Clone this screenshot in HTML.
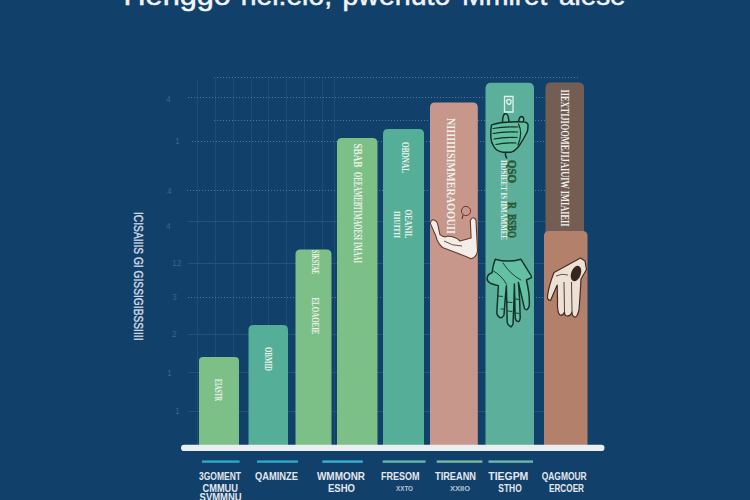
<!DOCTYPE html>
<html><head><meta charset="utf-8">
<style>
html,body{margin:0;padding:0;width:750px;height:500px;overflow:hidden;background:#11406a;}
svg{display:block;position:absolute;left:0;top:0;}
svg{font-family:"Liberation Sans",sans-serif;}
</style></head>
<body>
<svg width="750" height="500" viewBox="0 0 750 500">
  <rect width="750" height="500" fill="#11406a"/>
  <!-- title -->
  <g font-size="27" fill="#f2f4f6" stroke="#f2f4f6" stroke-width="0.5">
    <text x="123.5" y="5.2" textLength="107.3" lengthAdjust="spacingAndGlyphs">Henggo</text>
    <text x="240.8" y="5.2" textLength="91.2" lengthAdjust="spacingAndGlyphs">hel.elo,</text>
    <text x="342.4" y="5.2" textLength="108" lengthAdjust="spacingAndGlyphs">pwenuto</text>
    <text x="462" y="5.2" textLength="85.2" lengthAdjust="spacingAndGlyphs">Mmlret</text>
    <text x="559" y="5.2" textLength="66.6" lengthAdjust="spacingAndGlyphs">alese</text>
  </g>

  <!-- vertical grid lines -->
  <g stroke="#1f4d77" stroke-width="1">
    <line x1="197.5" y1="79" x2="197.5" y2="445"/>
    <line x1="215.5" y1="79" x2="215.5" y2="445"/>
    <line x1="233.5" y1="79" x2="233.5" y2="445"/>
    <line x1="251.5" y1="79" x2="251.5" y2="445"/>
    <line x1="268.5" y1="79" x2="268.5" y2="445"/>
    <line x1="286.5" y1="79" x2="286.5" y2="445"/>
    <line x1="304.5" y1="79" x2="304.5" y2="445"/>
    <line x1="322.5" y1="79" x2="322.5" y2="445"/>
    <line x1="334.5" y1="79" x2="334.5" y2="445"/>
  </g>
  <!-- horizontal dotted grid lines -->
  <g stroke="#4f769e" stroke-width="1" stroke-dasharray="1 2">
    <line x1="214" y1="77.5" x2="579" y2="77.5"/>
    <line x1="188" y1="97.5" x2="580" y2="97.5"/>
    <line x1="214" y1="120.5" x2="580" y2="120.5"/>
    <line x1="192" y1="141.5" x2="580" y2="141.5"/>
    <line x1="187" y1="190.5" x2="580" y2="190.5"/>
    <line x1="188" y1="297.5" x2="580" y2="297.5"/>
  </g>
  <g stroke="#255279" stroke-width="1">
    <line x1="188" y1="221.5" x2="580" y2="221.5"/>
    <line x1="188" y1="263.5" x2="580" y2="263.5"/>
    <line x1="188" y1="334.5" x2="580" y2="334.5"/>
    <line x1="188" y1="372.5" x2="580" y2="372.5"/>
    <line x1="188" y1="411.5" x2="580" y2="411.5"/>
  </g>
  <!-- y tick labels -->
  <g fill="#3f6388" font-size="8.5">
    <text x="166" y="102">4</text>
    <text x="175" y="144">1</text>
    <text x="167" y="194">4</text>
    <text x="166" y="229">4</text>
    <text x="172" y="266">12</text>
    <text x="172" y="300">3</text>
    <text x="172" y="337">2</text>
    <text x="167" y="376">1</text>
    <text x="175" y="414">1</text>
  </g>
  <!-- y axis label rotated -->
  <text transform="translate(133.5,212) rotate(90)" font-size="13" fill="#d2d9e2" stroke="#d2d9e2" stroke-width="0.4" textLength="128.5" lengthAdjust="spacingAndGlyphs">ICISAIIIS GI GISSIGIBSSIIII</text>

  <!-- bars -->
  <path d="M199 445 V361 Q199 357 203 357 H235 Q239 357 239 361 V445 Z" fill="#7dc087"/>
  <path d="M248.5 445 V330 Q248.5 325 253.5 325 H283 Q288 325 288 330 V445 Z" fill="#55ae98"/>
  <path d="M295.5 445 V254.5 Q295.5 249.5 300.5 249.5 H326.5 Q331.5 249.5 331.5 254.5 V445 Z" fill="#7dc087"/>
  <path d="M337 445 V143 Q337 138 342 138 H372.5 Q377.5 138 377.5 143 V445 Z" fill="#7dc087"/>
  <path d="M383 445 V134 Q383 129 388 129 H419 Q424 129 424 134 V445 Z" fill="#55ae98"/>
  <path d="M430 445 V107.5 Q430 102.5 435 102.5 H472.8 Q477.8 102.5 477.8 107.5 V445 Z" fill="#c6978a"/>
  <path d="M485.5 445 V88.5 Q485.5 82.8 491 82.8 H528.5 Q534 82.8 534 88.5 V445 Z" fill="#5caf9a"/>
  <path d="M545.5 240 V88 Q545.5 82.5 551 82.5 H578.5 Q584 82.5 584 88 V240 Z" fill="#745e54"/>
  <path d="M544 445 V236 Q544 231 549 231 H582.5 Q587.5 231 587.5 236 V445 Z" fill="#b3806c"/>


  <!-- in-bar texts -->
  <g fill="#eef2ea" font-size="11" font-weight="bold" style="font-family:'Liberation Serif',serif">
    <text transform="translate(215,379) rotate(90)" font-size="10" textLength="22" lengthAdjust="spacingAndGlyphs">EIASTR</text>
    <text transform="translate(264.5,347) rotate(90)" font-size="10" textLength="24" lengthAdjust="spacingAndGlyphs">OBMID</text>
    <text transform="translate(311.5,250) rotate(90)" font-size="10.5" textLength="24" lengthAdjust="spacingAndGlyphs">SIKSTAE</text>
    <text transform="translate(311.5,297.5) rotate(90)" font-size="10.5" textLength="37" lengthAdjust="spacingAndGlyphs">ELOAOEIE</text>
    <text transform="translate(353.5,143.5) rotate(90)" font-size="12" textLength="24" lengthAdjust="spacingAndGlyphs">SBAB</text>
    <text transform="translate(353.5,172) rotate(90)" font-size="12" textLength="91" lengthAdjust="spacingAndGlyphs">OEEAMEBTIMAOESI IMAAI</text>
    <text transform="translate(402,142) rotate(90)" textLength="31" lengthAdjust="spacingAndGlyphs">OBDNAL</text>
    <text transform="translate(405,209.5) rotate(90)" textLength="29" lengthAdjust="spacingAndGlyphs">OEANIL</text>
    <text transform="translate(393.5,211) rotate(90)" font-size="8" textLength="27" lengthAdjust="spacingAndGlyphs">IIIUITII</text>
    <text transform="translate(446.5,118) rotate(90)" font-size="12" textLength="116" lengthAdjust="spacingAndGlyphs">NIIIIIIISIMMERAOOUII</text>
    <text transform="translate(560.5,89.5) rotate(90)" font-size="13.5" textLength="137" lengthAdjust="spacingAndGlyphs">IIEXTIJIOOMEJIJAIUIW IMIAIEII</text>
    <text transform="translate(501,160) rotate(90)" font-size="7.5" textLength="80" lengthAdjust="spacingAndGlyphs">IIDSIEET IS IIMAMMEE</text>
  </g>
  <g fill="#2b5a38" stroke="#2b5a38" stroke-width="0.5" font-size="12.5" font-weight="bold" style="font-family:'Liberation Serif',serif">
    <text transform="translate(507.5,160) rotate(90)" textLength="23" lengthAdjust="spacingAndGlyphs">QSO</text>
    <text transform="translate(507.5,202) rotate(90)" textLength="7" lengthAdjust="spacingAndGlyphs">R</text>
    <text transform="translate(507.5,214) rotate(90)" textLength="24" lengthAdjust="spacingAndGlyphs">BSBO</text>
  </g>

  <!-- fist in bar 7 -->
  <g stroke="#152a24" stroke-width="1.4" fill="#62c0a0" stroke-linejoin="round" stroke-linecap="round">
    <path d="M506 152 Q504.5 155 506.7 158" fill="none"/>
    <path d="M502.5 123 Q502.5 114 505.5 113.5 Q508.5 113.5 509 123"/>
    <path d="M518.5 123 Q519 117 521 116.5 Q523.5 116.5 523.8 119 Q523.5 121 523 123"/>
    <path d="M491.6 124.9 Q500 122 510 122 Q520 121.5 525.2 122.1 Q528.5 123 528 126 Q528 131 526.6 133 Q523 140 519.6 145.2 Q515 151 511.2 152.2 L502.8 152.2 Q496 151 494.4 147.3 Q490.5 142 490.9 136.8 Q490.5 129 491.6 124.9 Z"/>
    <path d="M493 128.5 Q505 126.5 518 127 M493 133.5 Q505 131.5 517.5 132 M494 139 Q505 137 517 137.5 M496 144.5 Q505 142.5 516 143 M518.5 124 Q523 133 518 145" fill="none" stroke-width="1.2"/>
  </g>
  <g stroke="#e3f1ea" stroke-width="1.3" fill="none">
    <path d="M504.5 96.5 H513 V112 H504.5 Z M506.5 100.5 Q509 98.5 511 100.5 Q511.5 104 509 104.5 Q506.5 104 506.5 100.5 Z"/>
  </g>

  <!-- open hand in bar 7 -->
  <g stroke="#14302a" stroke-width="1.45" fill="#64c0a3" stroke-linejoin="round" stroke-linecap="round">
    <path d="M495.2 259.2 Q508 263 520.8 259.2 L530.4 274.4 Q532 277 531.2 277.6 L526.4 280 Q530 295 529.2 306 Q528 310 526 309.6 Q524 309 524 306.4 L518.4 282.4 Q520 300 520.2 318 Q519.5 322 518.4 321.6 Q515.5 321 515.2 317.6 L514.4 284 Q514 305 513 324 Q511.5 327.5 510.4 326.4 Q507.5 325 507.2 322.4 L506.4 285.6 Q505 300 504 315 Q502 318.5 500 317.6 Q497 316 496.8 312.8 L498.4 285.6 Q495 285 490.4 283.2 Q486.5 281 487.2 277.6 Q487.5 274.5 492 272.8 Q493 265 495.2 259.2 Z"/>
    <path d="M493.5 271 Q502 276 506.4 284 M503 263 Q510 274 520.8 280" fill="none" stroke-width="0.9"/>
    <path d="M498 296 L502.5 296.5 M507 302 L512 302.5 M515.5 299 L519 299.5 M508 311 L512 311.5 M501 309 L503.5 309 M516 313 L519 313.5" fill="none" stroke-width="0.9"/>
  </g>

  <!-- hand in bar 8 -->
  <g stroke="#4a2a20" stroke-width="1.2" fill="#ebe1d4" stroke-linejoin="round">
    <path d="M554 272.5 L580.5 258 L585 261 L586.5 269.5 L581 279 Q580 298 579 310 Q577 318 574.5 317 Q572 316 572 312 Q571 316 567 316 Q564.5 316 564.5 312 Q563 316 560 315 Q557 313 557.5 300 L557.2 285 L550.5 300.5 Q547 300 547.5 296 Q549 285 554 272.5 Z"/>
    <path d="M564.5 312 L564 282 M572 312 L571.5 282" fill="none" stroke-width="0.9"/>
    <ellipse cx="576" cy="273.5" rx="4.8" ry="8" transform="rotate(20 576 273.5)" fill="#3a2620" stroke="none"/>
    <path d="M556 276 Q562 273 568 275" fill="none" stroke-width="0.8"/>
  </g>

  <!-- hand in bar 6 -->
  <g stroke="#6a3828" stroke-width="1.1" fill="#f1ede8" stroke-linejoin="round">
    <path d="M430.4 223.6 Q431 219 434 220 Q437 221 437.6 223.6 L440 234.7 Q444 238 447.2 236.3 Q455 236 460 241 L471.1 238 L470.3 220.4 Q472 217 474 218 Q476 219 476 220.4 L477.5 250.7 Q477 257 471.1 258.7 Q460 254 442.4 247.5 Q437 242 436 236.3 Z"/>
    <path d="M444 241 Q452 246 462 246" fill="none" stroke-width="0.9"/>
    <circle cx="466" cy="211" r="4.6" fill="none" stroke-width="1"/>
    <path d="M463 215 L462 219" fill="none"/>
  </g>

  <!-- axis -->
  <rect x="181" y="444.8" width="423.5" height="6.3" rx="3.1" fill="#ebeef1"/>

  <!-- underlines -->
  <rect x="202" y="460.4" width="37.6" height="2.4" fill="#2fa8c6"/>
  <rect x="257" y="460.4" width="41" height="2.4" fill="#2fa8c6"/>
  <rect x="322.3" y="460.4" width="40.5" height="2.4" fill="#3ab0d0"/>
  <rect x="382.7" y="460.4" width="42.9" height="2.4" fill="#5fb8a8"/>
  <rect x="436.7" y="460.4" width="45.7" height="2.4" fill="#7ab8a0"/>
  <rect x="488.5" y="460.4" width="44.5" height="2.4" fill="#6ab8a8"/>

  <!-- x labels -->
  <g fill="#e3e8ee" font-size="10.5" font-weight="bold">
    <text x="199" y="479.6" textLength="42" lengthAdjust="spacingAndGlyphs">3GOMENT</text>
    <text x="202.5" y="491.6" textLength="35.5" lengthAdjust="spacingAndGlyphs">CMMUU</text>
    <text x="199.6" y="500.5" textLength="42" lengthAdjust="spacingAndGlyphs">SVMMNU</text>
    <text x="255" y="479.6" textLength="43" lengthAdjust="spacingAndGlyphs">QAMINZE</text>
    <text x="317" y="479.6" textLength="48" lengthAdjust="spacingAndGlyphs">WMMONR</text>
    <text x="328" y="491.6" textLength="27" lengthAdjust="spacingAndGlyphs">ESHO</text>
    <text x="381" y="479.6" textLength="38.5" lengthAdjust="spacingAndGlyphs">FRESOM</text>
    <text x="435" y="479.6" textLength="41" lengthAdjust="spacingAndGlyphs">TIREANN</text>
    <text x="488.3" y="479.6" textLength="40" lengthAdjust="spacingAndGlyphs">TIEGPM</text>
    <text x="498.3" y="491.6" textLength="23.4" lengthAdjust="spacingAndGlyphs">STHO</text>
    <text x="541.7" y="479.6" textLength="45" lengthAdjust="spacingAndGlyphs">QAGMOUR</text>
    <text x="549" y="491.6" textLength="35" lengthAdjust="spacingAndGlyphs">ERCOER</text>
  </g>
  <g fill="#b9c5d2" font-size="7" font-weight="bold">
    <text x="396" y="490.5" textLength="17" lengthAdjust="spacingAndGlyphs">XXTO</text>
    <text x="450" y="490.5" textLength="20" lengthAdjust="spacingAndGlyphs">XXIIO</text>
  </g>
</svg>
</body></html>
